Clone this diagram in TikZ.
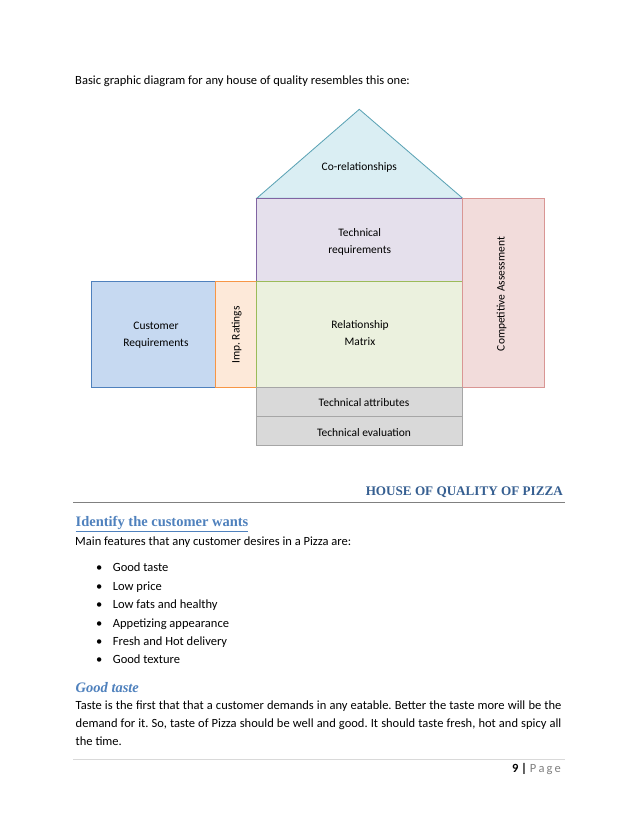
\documentclass[tikz,border=0pt]{standalone}
\usepackage{fontspec}
\setmainfont{Carlito}
\newfontfamily\headfont{Liberation Serif}
\usetikzlibrary{calc}
\frenchspacing

\definecolor{roofc}{HTML}{DAEEF3}
\definecolor{roofl}{HTML}{5BA3B5}
\definecolor{techc}{HTML}{E5E0EC}
\definecolor{techl}{HTML}{8064A2}
\definecolor{relc}{HTML}{EBF1DE}
\definecolor{rell}{HTML}{9BBB59}
\definecolor{custc}{HTML}{C6D9F1}
\definecolor{custl}{HTML}{4F81BD}
\definecolor{impc}{HTML}{FDE9D9}
\definecolor{impl}{HTML}{F79646}
\definecolor{compc}{HTML}{F2DCDB}
\definecolor{compl}{HTML}{D99694}
\definecolor{attrc}{HTML}{D9D9D9}
\definecolor{attrl}{HTML}{A6A6A6}
\definecolor{headblue}{HTML}{365F91}
\definecolor{subblue}{HTML}{4F81BD}

\begin{document}
\begin{tikzpicture}[x=0.9593pt,y=-0.9593pt,
		every node/.style={inner sep=0pt},
		part/.style={line width=0.8pt},
		boxtext/.style={font=\fontsize{11}{16}\selectfont, align=center},
		bodyline/.style={anchor=base west, font=\fontsize{12}{14}\selectfont}]
		\useasboundingbox[fill=white] (0,0) rectangle (638,826);

		% Intro line
		\node[bodyline] (intro) at (75,84.5) {Basic graphic diagram for any house of quality resembles this one:};

		% Draw the house
		\filldraw[part,draw=roofl,fill=roofc] (256.7,198.3) -- (359.3,109.3) -- (462.7,198.3) -- cycle;
		\filldraw[part,draw=techl,fill=techc] (256.7,198.3) rectangle (462.7,281.7);
		\filldraw[part,draw=custl,fill=custc] (91.3,281.7) rectangle (215.7,387.7);
		\filldraw[part,draw=impl,fill=impc] (215.7,281.7) rectangle (256.7,387.7);
		\filldraw[part,draw=rell,fill=relc] (256.7,281.7) rectangle (462.7,387.7);
		\filldraw[part,draw=compl,fill=compc] (462.7,198.3) rectangle (544,387.7);
		\filldraw[part,draw=attrl,fill=attrc] (256.7,387.7) rectangle (462.7,416.7);
		\filldraw[part,draw=attrl,fill=attrc] (256.7,416.7) rectangle (462.7,445.3);

		% Labels of the house
		\node[boxtext] (corel) at (359.3,167.3) {Co-relationships};
		\node[boxtext] (techreq) at (359.7,242) {Technical\\requirements};
		\node[boxtext] (relmat) at (360,333.3) {Relationship\\Matrix};
		\node[boxtext] (custreq) at (156,335) {Customer\\Requirements};
		\node[boxtext,rotate=90] (imprat) at (236.7,335) {Imp. Ratings};
		\node[boxtext,rotate=90] (compass) at (501.7,294) {Competitive Assessment};
		\node[boxtext] (techattr) at (364,402.7) {Technical attributes};
		\node[boxtext] (techeval) at (364,432.7) {Technical evaluation};

		% Heading
		\node[anchor=base east,font=\headfont\bfseries\fontsize{12.6}{16}\selectfont,text=headblue] (title) at (563,495.5) {HOUSE OF QUALITY OF PIZZA};
		\draw[line width=1.3pt,color=black!50] (73,502.3) -- (565,502.3);

		\node[anchor=base west,font=\headfont\bfseries\fontsize{13.9}{16}\selectfont,text=subblue] (wants) at (75.5,526.5) {\underline{Identify the customer wants}};
		\node[bodyline] (mainf) at (75,545) {Main features that any customer desires in a Pizza are:};

		% Bullet list
		\foreach \t [count=\i] in {Good taste,Low price,Low fats and healthy,Appetizing appearance,Fresh and Hot delivery,Good texture}
		{
			\node[bodyline,anchor=base] (dot\i) at (99.3,553.5+18.4*\i) {\textbullet};
			\node[bodyline] (item\i) at (112.7,553.5+18.4*\i) {\t};
		}

		\node[anchor=base west,font=\headfont\bfseries\itshape\fontsize{13.9}{16}\selectfont,text=subblue] (goodt) at (75.5,692.5) {Good taste};
		\node[bodyline] (par1) at (75.5,709) {\makebox[466pt][s]{Taste is the first that that a customer demands in any eatable. Better the taste more will be the}};
		\node[bodyline] (par2) at (75.5,727.3) {\makebox[466pt][s]{demand for it. So, taste of Pizza should be well and good. It should taste fresh, hot and spicy all}};
		\node[bodyline] (par3) at (75.5,745.3) {the time.};

		% Footer
		\draw[line width=0.5pt,color=black!15] (73,759.5) -- (565,759.5);
		\node[anchor=base east,font=\fontsize{12}{14}\selectfont] (page) at (561,772) {\textbf{9 |} \textcolor{black!50}{P\,a\,g\,e}};

	\end{tikzpicture}
\end{document}
